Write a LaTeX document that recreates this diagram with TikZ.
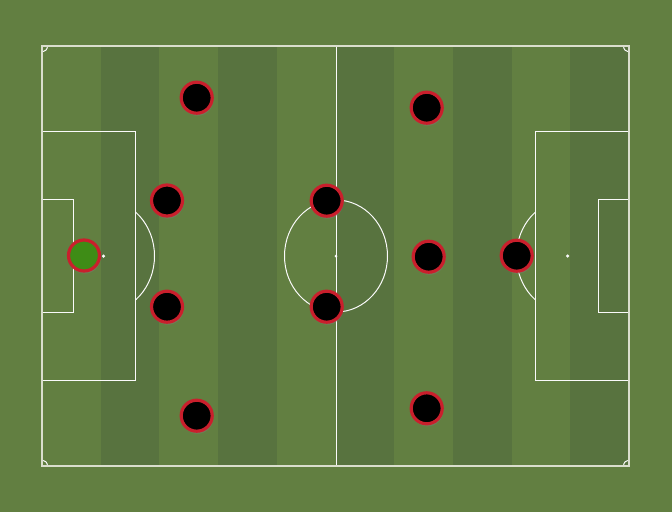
\documentclass[tikz,border=0pt]{standalone}
\usetikzlibrary{shadows}
\definecolor{grassL}{RGB}{98,127,65}
\definecolor{grassD}{RGB}{88,115,63}
\definecolor{lineW}{RGB}{250,250,250}
\definecolor{lineG}{RGB}{218,222,205}
\definecolor{kitred}{RGB}{201,31,44}
\definecolor{gkgreen}{RGB}{62,140,22}
\tikzset{
  pline/.style={draw=lineW, line width=1pt},
  oline/.style={draw=lineG, line width=1.3pt},
  player/.style={circle, draw=kitred, line width=3.2pt, fill=black, minimum size=31pt, inner sep=0pt,
    circular drop shadow={shadow xshift=0.5pt, shadow yshift=-1.8pt, opacity=0.6, shadow scale=1.06}},
  keeper/.style={player, fill=gkgreen},
  spot/.style={circle, fill=lineW, minimum size=3pt, inner sep=0pt}
}
\begin{document}
\begin{tikzpicture}[x=1pt,y=-1pt]
\useasboundingbox (0,0) rectangle (672,512);
\fill[grassL] (0,0) rectangle (672,512);
% stripes
\foreach \k in {1,3,5,7,9}{
  \fill[grassD] ({42+58.7*\k},46) rectangle ({42+58.7*(\k+1)},466);
}
% penalty arcs (clipped outside the boxes)
\begin{scope}
  \clip (135.5,0) rectangle (300,512);
  \draw[pline] (103.5,256) ellipse [x radius=51pt, y radius=56.5pt];
\end{scope}
\begin{scope}
  \clip (380,0) rectangle (535.5,512);
  \draw[pline] (567.5,256) ellipse [x radius=51pt, y radius=56.5pt];
\end{scope}
% centre circle
\draw[pline] (336,256) ellipse [x radius=51.5pt, y radius=56pt];
% halfway line
\coordinate (htop) at (336,46);
\coordinate (hbot) at (336,466);
\draw[pline] (htop) -- (hbot);
% boxes
\draw[pline] (42,131) rectangle (135.5,380);
\draw[pline] (42,199.5) rectangle (73,312);
\draw[pline] (629,131) rectangle (535.5,380);
\draw[pline] (629,199.5) rectangle (598,312);
% corner arcs
\begin{scope}
  \clip (42,46) rectangle (629,466);
  \draw[pline] (42,46) ellipse [x radius=5.5pt, y radius=6pt];
  \draw[pline] (629,46) ellipse [x radius=5.5pt, y radius=6pt];
  \draw[pline] (42,466) ellipse [x radius=5.5pt, y radius=6pt];
  \draw[pline] (629,466) ellipse [x radius=5.5pt, y radius=6pt];
\end{scope}
% outer border
\draw[oline] (42,46) rectangle (629,466);
% spots
\node[spot] (cspot) at (336,256) {};
\node[spot, minimum size=3.5pt] (lspot) at (103.5,256) {};
\node[spot, minimum size=3.5pt] (rspot) at (567.5,256) {};
% players
\node[keeper] (gk) at (84,255.5) {};
\node[player] (d1) at (196.7,97.7) {};
\node[player] (d2) at (167,200.5) {};
\node[player] (d3) at (167,306.7) {};
\node[player] (d4) at (196.7,415.7) {};
\node[player] (m1) at (326.7,200.7) {};
\node[player] (m2) at (326.7,306.7) {};
\node[player] (a1) at (426.7,107.7) {};
\node[player] (a2) at (428.7,256.7) {};
\node[player] (a3) at (426.7,408.3) {};
\node[player] (f1) at (516.7,255.7) {};
\end{tikzpicture}
\end{document}
